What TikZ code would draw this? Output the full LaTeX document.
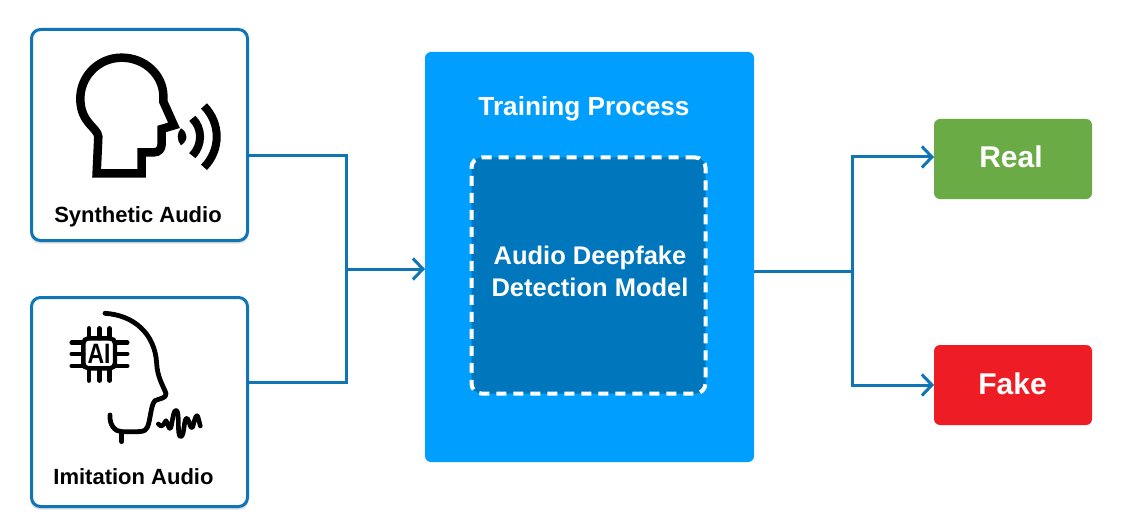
\documentclass[tikz,border=0pt]{standalone}
\usepackage{fontspec}
\setmainfont{Liberation Sans}
\usetikzlibrary{arrows.meta}
\definecolor{linkblue}{HTML}{0F75B5}
\definecolor{bigblue}{HTML}{009FFF}
\definecolor{innerblue}{HTML}{0077BD}
\definecolor{realgreen}{HTML}{6AAB45}
\definecolor{fakered}{HTML}{EE1C25}
\tikzset{
  cardbox/.style={draw=linkblue,fill=white,line width=3pt,rounded corners=9pt,minimum width=216pt,inner sep=0pt,outer sep=0pt},
  shadowbox/.style={fill=black!35,opacity=.35,rounded corners=9pt,minimum width=218pt,inner sep=0pt,outer sep=0pt},
  cardlabel/.style={font=\bfseries\fontsize{22}{26}\selectfont,text=black,inner sep=0pt},
  whitelabel/.style={font=\bfseries\fontsize{25.5}{32}\selectfont,text=white,inner sep=0pt,align=center},
  resultbox/.style={rounded corners=6pt,minimum width=158pt,minimum height=80pt,inner sep=0pt,outer sep=0pt},
  resultlabel/.style={text=white,inner sep=0pt,font=\bfseries\fontsize{30}{34}\selectfont},
  link/.style={draw=linkblue,line width=3pt},
  linkarrow/.style={link,-{Straight Barb[length=10pt,width=21pt,line width=3pt]}},
  iconline/.style={draw=black,line join=miter},
}
\begin{document}
\begin{tikzpicture}[x=1pt,y=-1pt]
\useasboundingbox (0,0) rectangle (1135,532);
\fill[white] (0,0) rectangle (1135,532);
% shadows
\node[shadowbox,minimum height=213pt] at (139.5,137) {};
\node[shadowbox,minimum height=211pt] at (139.5,404) {};
% cards
\node[cardbox,minimum height=211pt] (synth) at (139.5,135) {};
\node[cardbox,minimum height=209pt] (imit) at (139.5,402) {};
\node[cardlabel] (synthlabel) at (138,216.5) {Synthetic Audio};
\node[cardlabel] (imitlabel) at (133.5,477) {Imitation Audio};
% centre
\node[fill=bigblue,rounded corners=6pt,minimum width=329pt,minimum height=410pt,inner sep=0pt,outer sep=0pt] (train) at (589.5,257) {};
\node[fill=innerblue,draw=white,line width=4pt,dash pattern=on 10pt off 7pt,rounded corners=10pt,minimum width=234pt,minimum height=236pt,inner sep=0pt,outer sep=0pt] (model) at (588.5,275.5) {};
\node[whitelabel,font=\bfseries\fontsize{26.2}{32}\selectfont] (trainlabel) at (584,109) {Training Process};
\node[whitelabel] (modellabel) at (590,271) {Audio Deepfake\\Detection Model};
% results
\node[resultbox,fill=realgreen] (real) at (1013,159) {};
\node[resultbox,fill=fakered] (fake) at (1013,385) {};
\node[resultlabel] (reallabel) at (1011,156.5) {Real};
\node[resultlabel] (fakelabel) at (1012.5,384) {Fake};
% connectors
\coordinate (jl) at (346,269);
\coordinate (jr) at (852,271);
\coordinate (st) at (248,156);
\coordinate (it) at (248,382);
\draw[link] (synth.east |- st) -| (jl);
\draw[link] (imit.east |- it) -| (jl);
\draw[linkarrow] (jl) -- (train.west |- jl);
\draw[link] (train.east |- jr) -- (jr);
\draw[linkarrow] (jr) |- (real.west |- 0,157);
\draw[linkarrow] (jr) |- (fake.west);
% speaking head icon
\begin{scope}[shift={(20,20)},x=.3333pt,y=-.3333pt]
\draw[iconline,line width=8.5pt]
  (230,460) -- (235,350) .. controls (232,322) and (183,310) .. (181,240)
  .. controls (179,170) and (235,113) .. (305,113)
  .. controls (375,113) and (428,165) .. (430,225)
  -- (430,245) -- (462,316) -- (425,327) -- (425,372)
  .. controls (425,388) and (415,397) .. (402,397)
  -- (365,397) -- (365,460) -- cycle;
\fill[black] (483,325) .. controls (470,338) and (470,362) .. (483,376) .. controls (505,362) and (505,338) .. (483,325) -- cycle;
\draw[black,line width=8pt] (517,295) .. controls (548,325) and (548,375) .. (517,407);
\draw[black,line width=8pt] (552,258) .. controls (603,310) and (603,390) .. (552,442);
\end{scope}
% AI head icon
\begin{scope}[shift={(20,290)},x=.3333pt,y=-.3333pt]
\draw[black,line width=4.8pt,line cap=round,line join=round]
  (255,70) .. controls (340,75) and (405,130) .. (410,220)
  .. controls (412,260) and (428,285) .. (438,310)
  .. controls (440,325) and (420,325) .. (405,332)
  .. controls (392,345) and (392,390) .. (382,412)
  .. controls (375,428) and (360,425) .. (305,425)
  .. controls (285,425) and (268,405) .. (270,375);
\draw[black,line width=4.8pt,line cap=round] (305,425) -- (305,455);
\draw[black,line width=4.6pt,line cap=round,line join=round]
  (415,402) .. controls (425,415) and (430,405) .. (438,392)
  .. controls (445,400) and (445,420) .. (452,415)
  .. controls (458,395) and (460,355) .. (470,362)
  .. controls (480,370) and (470,440) .. (482,440)
  .. controls (495,440) and (490,380) .. (502,385)
  .. controls (510,395) and (510,420) .. (518,412)
  .. controls (525,385) and (530,365) .. (535,385)
  -- (541,408);
\draw[black,line width=4.4pt,rounded corners=5pt] (190,145) rectangle (285,235);
\foreach \px in {207,238,268}{
  \draw[black,line width=4.4pt,line cap=round] (\px,115) -- (\px,145);
  \draw[black,line width=4.4pt,line cap=round] (\px,235) -- (\px,272);
}
\foreach \py in {158,192,228}{
  \draw[black,line width=4.4pt,line cap=round] (155,\py) -- (190,\py);
  \draw[black,line width=4.4pt,line cap=round] (285,\py) -- (322,\py);
}
\node[inner sep=0pt,xscale=.82,font=\bfseries\fontsize{28}{28}\selectfont,text=black] (ailabel) at (237,191) {AI};
\end{scope}
\end{tikzpicture}
\end{document}
